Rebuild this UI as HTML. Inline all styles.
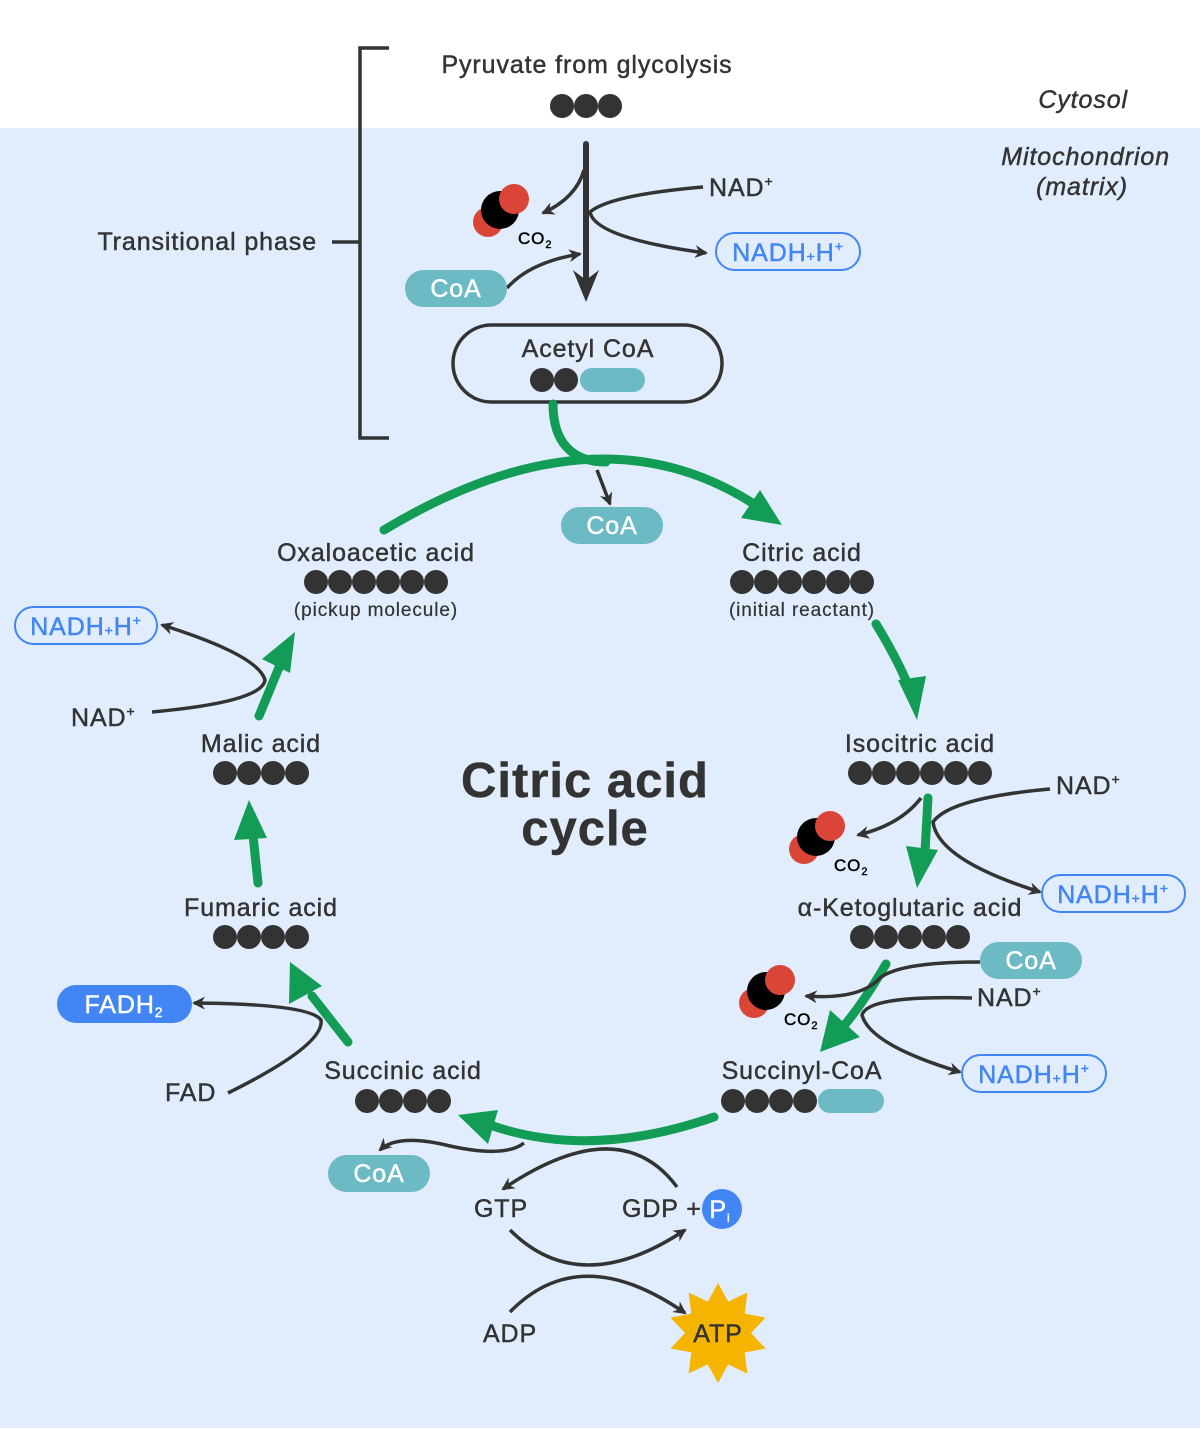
<!DOCTYPE html>
<html><head><meta charset="utf-8"><style>
html,body{margin:0;padding:0;background:#fff}
svg{display:block}
text{font-family:"Liberation Sans",sans-serif;fill:#333;letter-spacing:0.9px;stroke:#333;stroke-width:0.45px}
text.w{stroke:#fff}
text.b{stroke:#4285f4}
text.k{stroke:#000}
</style></head><body>
<svg width="1200" height="1430" viewBox="0 0 1200 1430" xmlns="http://www.w3.org/2000/svg">
<defs>
<marker id="a" markerUnits="userSpaceOnUse" markerWidth="16" markerHeight="16" refX="12" refY="8" orient="auto">
<path d="M1,1.5 L14,8 L1,14.5 L5,8 Z" fill="#333"/>
</marker>
</defs>
<rect x="0" y="0" width="1200" height="128" fill="#fff"/>
<rect x="0" y="128" width="1200" height="1300" fill="#e1edfd"/>

<!-- top labels -->
<text x="587" y="73" font-size="25" text-anchor="middle">Pyruvate from glycolysis</text>
<text x="1128" y="108" font-size="25" font-style="italic" text-anchor="end">Cytosol</text>
<text x="1170" y="165" font-size="25" font-style="italic" text-anchor="end">Mitochondrion</text>
<text x="1128" y="195" font-size="25" font-style="italic" text-anchor="end">(matrix)</text>
<text x="317" y="250" font-size="25" text-anchor="end">Transitional phase</text>
<path d="M389,48 H360 V438 H389 M332,242 H360" fill="none" stroke="#333" stroke-width="3.5"/>

<g fill="#333">
<circle cx="562" cy="106" r="12"/><circle cx="586" cy="106" r="12"/><circle cx="610" cy="106" r="12"/>
</g>

<!-- transitional arrows -->
<line x1="586" y1="144" x2="586" y2="285" stroke="#333" stroke-width="6" stroke-linecap="round"/>
<polygon points="586,302 573,270 586,280 599,270" fill="#333"/>
<path d="M584,170 Q576,198 543,213" fill="none" stroke="#333" stroke-width="3.5" marker-end="url(#a)"/>
<path d="M703,187 Q610,195 590,212 Q595,238 706,253" fill="none" stroke="#333" stroke-width="3.5" marker-end="url(#a)"/>
<path d="M507,288 Q530,262 580,254" fill="none" stroke="#333" stroke-width="3.5" marker-end="url(#a)"/>
<text x="709" y="196" font-size="25">NAD<tspan font-size="14" dy="-10">+</tspan></text>
<rect x="716" y="233" width="144" height="37" rx="18.5" fill="#e1edfd" stroke="#4285f4" stroke-width="2"/>
<text class="b" x="788" y="261" font-size="25" text-anchor="middle" style="fill:#4285f4">NADH<tspan font-size="14">+</tspan>H<tspan font-size="14" dy="-10">+</tspan></text>

<circle cx="488" cy="222" r="15" fill="#db4537"/><circle cx="500" cy="210" r="19" fill="#000"/><circle cx="514" cy="199" r="15" fill="#db4537"/>
<text class="k" x="518" y="244" font-size="17" style="fill:#000">CO<tspan font-size="11" dy="4">2</tspan></text>

<rect x="405" y="270" width="102" height="37" rx="18.5" fill="#6cbac4"/>
<text class="w" x="456" y="297" font-size="25" text-anchor="middle" style="fill:#fff">CoA</text>

<rect x="453" y="325" width="269" height="77" rx="38.5" fill="#e1edfd" stroke="#333" stroke-width="3.5"/>
<text x="588" y="357" font-size="25" text-anchor="middle">Acetyl CoA</text>
<circle cx="542" cy="380" r="12" fill="#333"/><circle cx="566" cy="380" r="12" fill="#333"/>
<rect x="580" y="368" width="65" height="24" rx="12" fill="#6cbac4"/>

<!-- green arrows -->
<g fill="none" stroke="#129c55" stroke-width="9" stroke-linecap="round">
<path d="M553,404 C553,440 570,462 606,462"/>
<path d="M384,530 Q600,400 760,508"/>
<path d="M876,624 Q898,660 910,690"/>
<path d="M928,798 L925,852"/>
<path d="M886,964 Q862,1005 842,1028"/>
<path d="M714,1117 Q590,1160 490,1125"/>
<path d="M348,1042 L312,996"/>
<path d="M258,883 L253,835"/>
<path d="M259,716 L280,665"/>
</g>
<g fill="#129c55">
<polygon points="782,525 741,518 760,490"/>
<polygon points="917,720 898,680 926,676"/>
<polygon points="917,888 906,846 938,850"/>
<polygon points="820,1052 830,1010 860,1037"/>
<polygon points="458,1115 498,1110 488,1144"/>
<polygon points="290,962 289,1004 322,986"/>
<polygon points="249,800 234,840 267,838"/>
<polygon points="295,632 262,659 290,673"/>
</g>

<line x1="597" y1="470" x2="610" y2="504" stroke="#333" stroke-width="3.5" marker-end="url(#a)"/>
<rect x="561" y="507" width="102" height="37" rx="18.5" fill="#6cbac4"/>
<text class="w" x="612" y="534" font-size="25" text-anchor="middle" style="fill:#fff">CoA</text>

<!-- nodes -->
<text x="376" y="561" font-size="25" text-anchor="middle">Oxaloacetic acid</text>
<g fill="#333"><circle cx="316" cy="582" r="12"/><circle cx="340" cy="582" r="12"/><circle cx="364" cy="582" r="12"/><circle cx="388" cy="582" r="12"/><circle cx="412" cy="582" r="12"/><circle cx="436" cy="582" r="12"/></g>
<text x="376" y="616" font-size="19" text-anchor="middle" style="stroke-width:0.2px">(pickup molecule)</text>

<text x="802" y="561" font-size="25" text-anchor="middle">Citric acid</text>
<g fill="#333"><circle cx="742" cy="582" r="12"/><circle cx="766" cy="582" r="12"/><circle cx="790" cy="582" r="12"/><circle cx="814" cy="582" r="12"/><circle cx="838" cy="582" r="12"/><circle cx="862" cy="582" r="12"/></g>
<text x="802" y="616" font-size="19" text-anchor="middle" style="stroke-width:0.2px">(initial reactant)</text>

<text x="920" y="752" font-size="25" text-anchor="middle">Isocitric acid</text>
<g fill="#333"><circle cx="860" cy="773" r="12"/><circle cx="884" cy="773" r="12"/><circle cx="908" cy="773" r="12"/><circle cx="932" cy="773" r="12"/><circle cx="956" cy="773" r="12"/><circle cx="980" cy="773" r="12"/></g>

<text x="910" y="916" font-size="25" text-anchor="middle">α-Ketoglutaric acid</text>
<g fill="#333"><circle cx="862" cy="937" r="12"/><circle cx="886" cy="937" r="12"/><circle cx="910" cy="937" r="12"/><circle cx="934" cy="937" r="12"/><circle cx="958" cy="937" r="12"/></g>

<text x="802" y="1079" font-size="25" text-anchor="middle">Succinyl-CoA</text>
<g fill="#333"><circle cx="733" cy="1101" r="12"/><circle cx="757" cy="1101" r="12"/><circle cx="781" cy="1101" r="12"/><circle cx="805" cy="1101" r="12"/></g>
<rect x="818" y="1089" width="66" height="24" rx="12" fill="#6cbac4"/>

<text x="403" y="1079" font-size="25" text-anchor="middle">Succinic acid</text>
<g fill="#333"><circle cx="367" cy="1101" r="12"/><circle cx="391" cy="1101" r="12"/><circle cx="415" cy="1101" r="12"/><circle cx="439" cy="1101" r="12"/></g>

<text x="261" y="916" font-size="25" text-anchor="middle">Fumaric acid</text>
<g fill="#333"><circle cx="225" cy="937" r="12"/><circle cx="249" cy="937" r="12"/><circle cx="273" cy="937" r="12"/><circle cx="297" cy="937" r="12"/></g>

<text x="261" y="752" font-size="25" text-anchor="middle">Malic acid</text>
<g fill="#333"><circle cx="225" cy="773" r="12"/><circle cx="249" cy="773" r="12"/><circle cx="273" cy="773" r="12"/><circle cx="297" cy="773" r="12"/></g>

<text x="585" y="797" font-size="49" font-weight="bold" text-anchor="middle" style="letter-spacing:1px">Citric acid</text>
<text x="585" y="845" font-size="49" font-weight="bold" text-anchor="middle" style="letter-spacing:1px">cycle</text>

<!-- isocitric side -->
<path d="M921,798 Q900,825 858,835" fill="none" stroke="#333" stroke-width="3.5" marker-end="url(#a)"/>
<path d="M1050,789 Q950,798 933,822 Q938,860 1040,892" fill="none" stroke="#333" stroke-width="3.5" marker-end="url(#a)"/>
<text x="1056" y="794" font-size="25">NAD<tspan font-size="14" dy="-10">+</tspan></text>
<circle cx="804" cy="849" r="15" fill="#db4537"/><circle cx="816" cy="837" r="19" fill="#000"/><circle cx="830" cy="826" r="15" fill="#db4537"/>
<text class="k" x="834" y="871" font-size="17" style="fill:#000">CO<tspan font-size="11" dy="4">2</tspan></text>
<rect x="1042" y="875" width="143" height="37" rx="18.5" fill="#e1edfd" stroke="#4285f4" stroke-width="2"/>
<text class="b" x="1113" y="903" font-size="25" text-anchor="middle" style="fill:#4285f4">NADH<tspan font-size="14">+</tspan>H<tspan font-size="14" dy="-10">+</tspan></text>

<!-- aKG side -->
<path d="M980,962 Q900,962 880,978 Q860,1000 806,996" fill="none" stroke="#333" stroke-width="3.5" marker-end="url(#a)"/>
<path d="M972,998 Q868,995 862,1015 Q870,1045 960,1072" fill="none" stroke="#333" stroke-width="3.5" marker-end="url(#a)"/>
<rect x="980" y="942" width="102" height="37" rx="18.5" fill="#6cbac4"/>
<text class="w" x="1031" y="969" font-size="25" text-anchor="middle" style="fill:#fff">CoA</text>
<text x="977" y="1006" font-size="25">NAD<tspan font-size="14" dy="-10">+</tspan></text>
<circle cx="754" cy="1003" r="15" fill="#db4537"/><circle cx="766" cy="991" r="19" fill="#000"/><circle cx="780" cy="980" r="15" fill="#db4537"/>
<text class="k" x="784" y="1025" font-size="17" style="fill:#000">CO<tspan font-size="11" dy="4">2</tspan></text>
<rect x="962" y="1055" width="144" height="37" rx="18.5" fill="#e1edfd" stroke="#4285f4" stroke-width="2"/>
<text class="b" x="1034" y="1083" font-size="25" text-anchor="middle" style="fill:#4285f4">NADH<tspan font-size="14">+</tspan>H<tspan font-size="14" dy="-10">+</tspan></text>

<!-- malic side -->
<path d="M152,712 Q262,702 265,680 Q258,655 162,625" fill="none" stroke="#333" stroke-width="3.5" marker-end="url(#a)"/>
<text x="71" y="726" font-size="25">NAD<tspan font-size="14" dy="-10">+</tspan></text>
<rect x="15" y="607" width="142" height="37" rx="18.5" fill="#e1edfd" stroke="#4285f4" stroke-width="2"/>
<text class="b" x="86" y="635" font-size="25" text-anchor="middle" style="fill:#4285f4">NADH<tspan font-size="14">+</tspan>H<tspan font-size="14" dy="-10">+</tspan></text>

<!-- FAD -->
<path d="M228,1093 Q325,1045 321,1020 Q310,1004 194,1003" fill="none" stroke="#333" stroke-width="3.5" marker-end="url(#a)"/>
<rect x="57" y="985" width="135" height="38" rx="19" fill="#4285f4"/>
<text class="w" x="124" y="1013" font-size="25" text-anchor="middle" style="fill:#fff">FADH<tspan font-size="14" dy="4">2</tspan></text>
<text x="165" y="1101" font-size="25">FAD</text>

<!-- succinyl CoA out -->
<path d="M524,1143 Q505,1158 450,1146 Q398,1133 380,1150" fill="none" stroke="#333" stroke-width="3.5" marker-end="url(#a)"/>
<rect x="328" y="1155" width="102" height="37" rx="18.5" fill="#6cbac4"/>
<text class="w" x="379" y="1182" font-size="25" text-anchor="middle" style="fill:#fff">CoA</text>

<!-- GTP/ATP -->
<path d="M677,1187 Q620,1110 503,1189" fill="none" stroke="#333" stroke-width="3.5" marker-end="url(#a)"/>
<path d="M510,1230 Q580,1300 685,1230" fill="none" stroke="#333" stroke-width="3.5" marker-end="url(#a)"/>
<path d="M510,1312 Q580,1240 685,1313" fill="none" stroke="#333" stroke-width="3.5" marker-end="url(#a)"/>
<text x="501" y="1217" font-size="25" text-anchor="middle">GTP</text>
<text x="622" y="1217" font-size="25">GDP +</text>
<circle cx="722" cy="1209" r="20" fill="#4285f4"/>
<text class="w" x="720" y="1218" font-size="25" text-anchor="middle" style="fill:#fff">P<tspan font-size="12" dy="4">i</tspan></text>
<text x="510" y="1342" font-size="25" text-anchor="middle">ADP</text>
<polygon fill="#f4b400" points="718,1283 728.2,1301.6 747.4,1292.5 744.7,1313.6 765.6,1317.6 751,1333 765.6,1348.5 744.7,1352.4 747.4,1373.5 728.2,1364.4 718,1383 707.8,1364.4 688.6,1373.5 691.3,1352.4 670.4,1348.5 685,1333 670.4,1317.6 691.3,1313.6 688.6,1292.5 707.8,1301.6"/>
<text x="718" y="1342" font-size="25" text-anchor="middle">ATP</text>
</svg>
</body></html>
